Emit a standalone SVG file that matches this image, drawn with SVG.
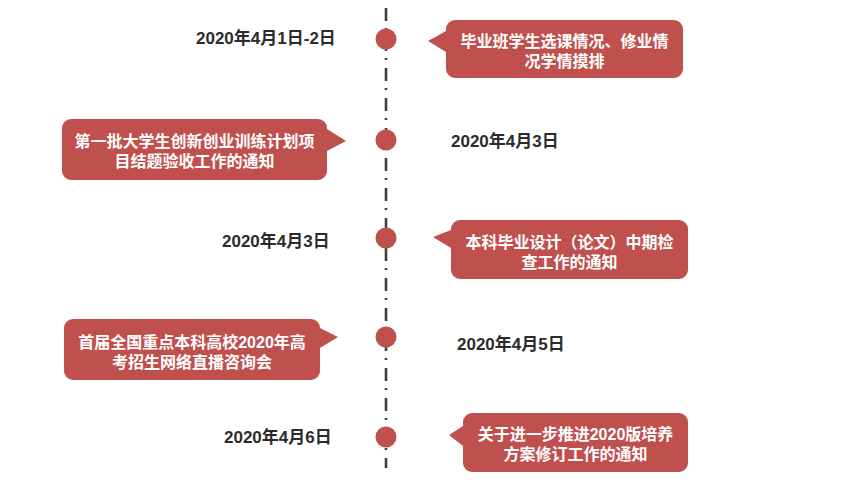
<svg xmlns="http://www.w3.org/2000/svg" width="865" height="487" viewBox="0 0 865 487">
<style>
.date{font-family:"Liberation Sans","Noto Sans CJK SC",sans-serif;font-weight:700;font-size:17px;fill:#2b2b2b}
.ct{font-family:"Liberation Sans","Noto Sans CJK SC",sans-serif;font-weight:700;font-size:16px;fill:#ffffff;text-anchor:middle}
.call{fill:#C0504D}
.dot{fill:#C0504D}
</style>
<rect width="865" height="487" fill="#ffffff"/>
<g id="connectors">
<line x1="386" y1="8" x2="386" y2="468" stroke="#404040" stroke-width="2.6" stroke-dasharray="13 7 2 8"/>
</g>
<g id="node1">
<circle class="dot" cx="386" cy="39" r="10.5"/>
<text class="date" x="196" y="44">2020年4月1日-2日</text>
<path class="call" d="M455,20 H674 A9,9 0 0 1 683,29 V69 A9,9 0 0 1 674,78 H455 A9,9 0 0 1 446,69 V52 L428,41 L446,31 V29 A9,9 0 0 1 455,20 Z"/>
<text class="ct" x="564.5" y="47">毕业班学生选课情况、修业情</text>
<text class="ct" x="564.5" y="67">况学情摸排</text>
</g>
<g id="node2">
<circle class="dot" cx="386" cy="140" r="10.5"/>
<text class="date" x="451" y="147">2020年4月3日</text>
<path class="call" d="M71,119 H318 A9,9 0 0 1 327,128 V129 L346,141 L327,151 V171 A9,9 0 0 1 318,180 H71 A9,9 0 0 1 62,171 V128 A9,9 0 0 1 71,119 Z"/>
<text class="ct" x="194.5" y="147">第一批大学生创新创业训练计划项</text>
<text class="ct" x="194.5" y="167">目结题验收工作的通知</text>
</g>
<g id="node3">
<circle class="dot" cx="386" cy="238" r="10.5"/>
<text class="date" x="222" y="247">2020年4月3日</text>
<path class="call" d="M460,220 H679 A9,9 0 0 1 688,229 V270 A9,9 0 0 1 679,279 H460 A9,9 0 0 1 451,270 V248 L433,237 L451,230 V229 A9,9 0 0 1 460,220 Z"/>
<text class="ct" x="569.5" y="248">本科毕业设计（论文）中期检</text>
<text class="ct" x="569.5" y="268">查工作的通知</text>
</g>
<g id="node4">
<circle class="dot" cx="386" cy="337" r="10.5"/>
<text class="date" x="457" y="350">2020年4月5日</text>
<path class="call" d="M73,319 H311 A9,9 0 0 1 320,328 V328 L338,337 L320,348 V371 A9,9 0 0 1 311,380 H73 A9,9 0 0 1 64,371 V328 A9,9 0 0 1 73,319 Z"/>
<text class="ct" x="192" y="348">首届全国重点本科高校2020年高</text>
<text class="ct" x="192" y="368">考招生网络直播咨询会</text>
</g>
<g id="node5">
<circle class="dot" cx="386" cy="437" r="10.5"/>
<text class="date" x="224" y="443">2020年4月6日</text>
<path class="call" d="M472,413 H679 A9,9 0 0 1 688,422 V463 A9,9 0 0 1 679,472 H472 A9,9 0 0 1 463,463 V446 L449,435 L463,426 V422 A9,9 0 0 1 472,413 Z"/>
<text class="ct" x="575.5" y="440">关于进一步推进2020版培养</text>
<text class="ct" x="575.5" y="460">方案修订工作的通知</text>
</g>
</svg>
